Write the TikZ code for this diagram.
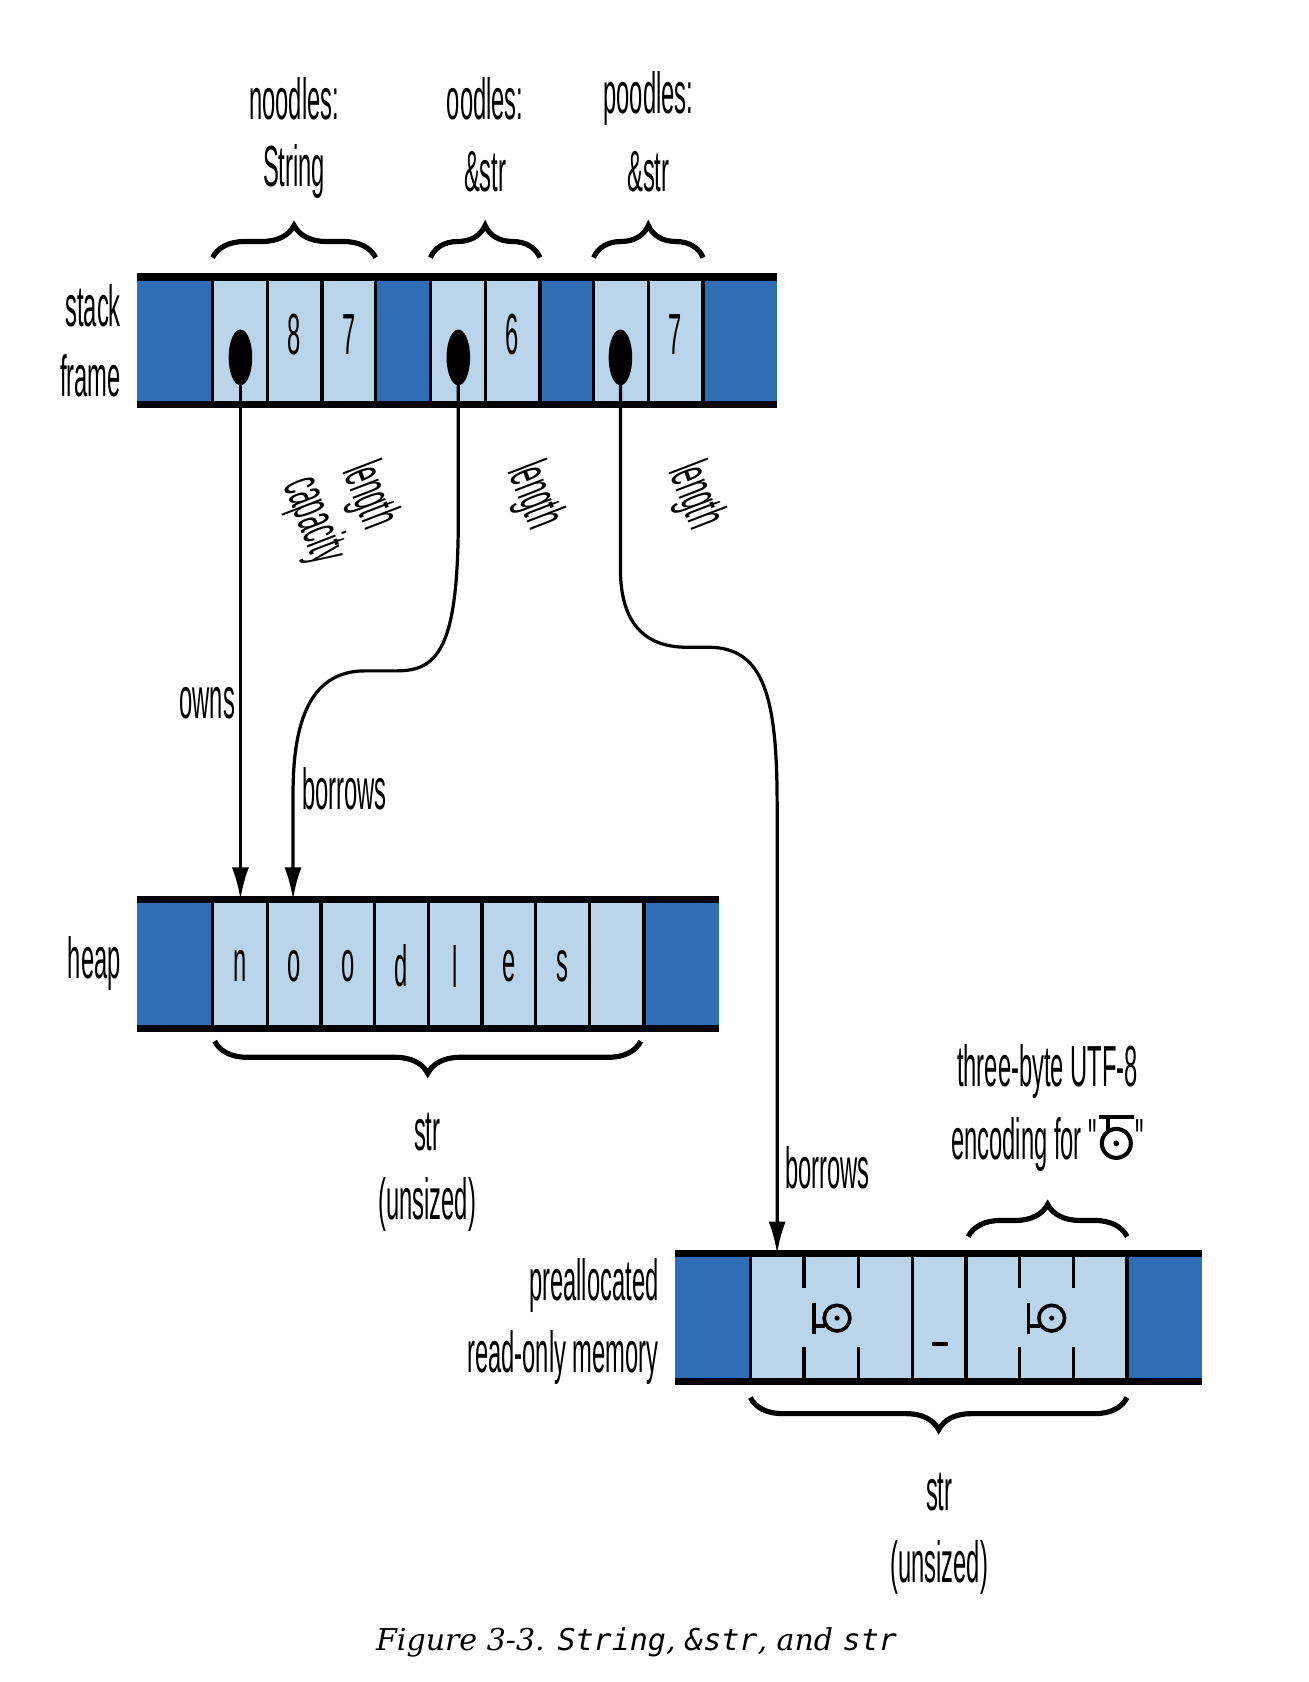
\documentclass[tikz,border=0pt]{standalone}
\usepackage{fontspec}
\usetikzlibrary{decorations.pathreplacing,arrows.meta,shapes.geometric}
\newfontfamily\cond{Liberation Sans}[FakeStretch=0.41]
\newfontfamily\capserif{DejaVu Serif}
\newfontfamily\capmono{DejaVu Sans Mono}
\definecolor{darkb}{HTML}{2F6EB5}
\definecolor{lightb}{HTML}{BAD4EA}
\newcommand\thaglyph{\tikz[baseline=0pt,x=1em,y=1em,line width=0.07em]{\draw (0,0.72)--(0.6,0.72);\draw (0.15,0.72)--(0.15,0.5);\draw (0.3,0.27) circle (0.25);\fill (0.3,0.27) circle (0.05);}}
\begin{document}
\begin{tikzpicture}[x=0.5pt,y=-0.5pt,
  lbl/.style={font=\cond\fontsize{27}{30}\selectfont,inner sep=0pt},
  cell/.style={draw=black,line width=1.5pt},
  bar/.style={line width=3.5pt},
  br/.style={decorate,decoration={brace,amplitude=15pt},line width=2.4pt},
  con/.style={line width=1.5pt},
  arr/.style={con,-{Latex[length=15pt,width=8pt]}}]
\useasboundingbox (0,0) rectangle (1219,1567);
% ---------- stack frame ----------
\fill[darkb] (128,258) rectangle (724,377);
\foreach \a/\b in {198/249,249/300,300/350,401/452,452/503,553/604,604/655}
  \fill[lightb] (\a,258) rectangle (\b,377);
\foreach \x in {198,249,300,350,401,452,503,553,604,655}
  \draw[cell] (\x,258) -- (\x,377);
\draw[bar] (128,258) -- (724,258);
\draw[bar] (128,377) -- (724,377);
\node[lbl] at (274,312) {8};
\node[lbl] at (325,312) {7};
\node[lbl] at (477,312) {6};
\node[lbl] at (629,312) {7};
\node[lbl,anchor=east] at (113,285) {stack};
\node[lbl,anchor=east] at (113,350) {frame};
\foreach \n/\x in {d1/224,d2/427,d3/578}
  \node[fill=black,ellipse,inner sep=0pt,minimum width=11pt,minimum height=26pt] (\n) at (\x,333) {};
% braces above stack
\draw[br] (198,240) -- (350,240);
\draw[br] (401,240) -- (503,240);
\draw[br] (553,240) -- (655,240);
\node[lbl] at (274,92) {noodles:};
\node[lbl] at (274,160) {String};
\node[lbl] at (452,92) {oodles:};
\node[lbl] at (452,160) {\&str};
\node[lbl] at (604,92) {poodles:};
\node[lbl] at (604,160) {\&str};
% rotated labels
\node[lbl,rotate=-69] at (292,485) {capacity};
\node[lbl,rotate=-69] at (343,462) {length};
\node[lbl,rotate=-69] at (497,462) {length};
\node[lbl,rotate=-69] at (647,462) {length};
% ---------- heap ----------
\fill[darkb] (128,838) rectangle (670,958);
\fill[lightb] (198,838) rectangle (600,958);
\foreach \x in {198,249,299,349,399,449,499,549,600}
  \draw[cell] (\x,838) -- (\x,958);
\draw[bar] (128,838) -- (670,838);
\draw[bar] (128,958) -- (670,958);
\foreach \c/\x in {n/224,o/274,o/324,d/374,l/424,e/474,s/524}
  \node[lbl] at (\x,900) {\c};
\node[lbl,anchor=east] at (113,898) {heap};
\draw[br] (597,970) -- (200,970);
\node[lbl] at (398,1055) {str};
\node[lbl] at (398,1122) {(unsized)};
% ---------- preallocated ----------
\fill[darkb] (629,1168) rectangle (1120,1287);
\fill[lightb] (699,1168) rectangle (1050,1287);
\foreach \x in {699,850,900,1050}
  \draw[cell] (\x,1168) -- (\x,1287);
\foreach \x in {749,800,950,1000}{
  \draw[cell] (\x,1168) -- (\x,1200);
  \draw[cell] (\x,1255) -- (\x,1287);}
\draw[bar] (629,1168) -- (1120,1168);
\draw[bar] (629,1287) -- (1120,1287);
\node[font=\fontsize{24}{28}\selectfont,rotate=90,inner sep=0pt] at (775,1228) {\thaglyph};
\node[font=\fontsize{24}{28}\selectfont,rotate=90,inner sep=0pt] at (975,1228) {\thaglyph};
\draw[line width=1.5pt] (868,1252) -- (883,1252);
\node[lbl,anchor=east] at (614,1198) {preallocated};
\node[lbl,anchor=east] at (614,1265) {read-only memory};
\draw[br] (902,1152) -- (1050,1152);
\node[lbl] at (976,998) {three-byte UTF-8};
\node[lbl] at (976,1065) {encoding for "\thaglyph"};
\draw[br] (1050,1302) -- (699,1302);
\node[lbl] at (875,1390) {str};
\node[lbl] at (875,1460) {(unsized)};
% ---------- connectors ----------
\coordinate (h1) at (224,838);
\coordinate (h2) at (273,838);
\coordinate (p1) at (724,1168);
\draw[arr] (d1.center) -- (h1);
\draw[arr] (d2.center) -- (427,480) .. controls (427,600) and (410,625) .. (370,625) -- (340,625) .. controls (285,625) and (273,680) .. (273,740) -- (h2);
\draw[arr] (d3.center) -- (578,530) .. controls (578,580) and (600,603) .. (640,603) -- (660,603) .. controls (712,603) and (724,650) .. (724,750) -- (p1);
\node[lbl] at (193,655) {owns};
\node[lbl,anchor=west] at (281,735) {borrows};
\node[lbl,anchor=west] at (731,1088) {borrows};
% caption
\node[inner sep=0pt,font=\fontsize{14}{16}\selectfont] at (593,1530) {\capserif\itshape Figure 3-3. {\capmono\itshape String}, {\capmono\itshape \&str}, and {\capmono\itshape str}};
\end{tikzpicture}
\end{document}
